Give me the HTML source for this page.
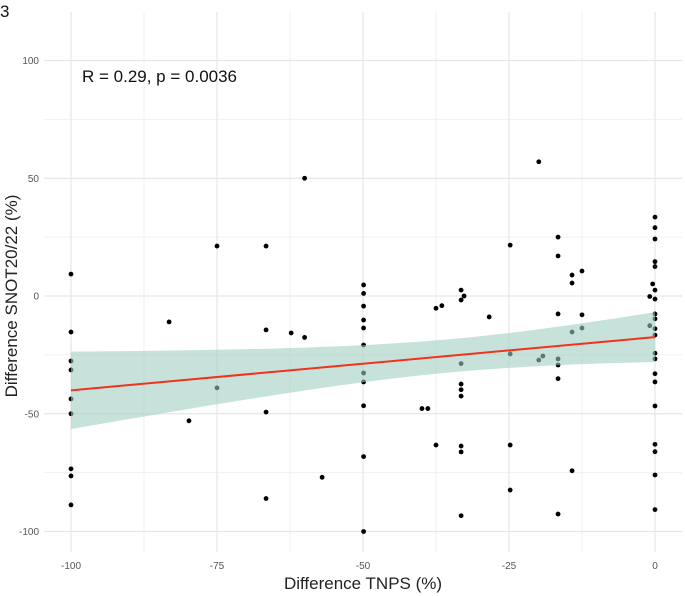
<!DOCTYPE html>
<html><head><meta charset="utf-8">
<style>
html,body{margin:0;padding:0;background:#fff;}
svg{display:block;font-family:"Liberation Sans",sans-serif;}
</style></head>
<body>
<svg id="chart" width="685" height="596" viewBox="0 0 685 596" xmlns="http://www.w3.org/2000/svg">
<text x="0" y="17" font-size="17" fill="#111">3</text>
<g id="grid"></g>
<g id="points"></g>
<g id="fit"></g>
<g id="axes"></g>
<text x="82" y="82" font-size="17" fill="#111">R = 0.29, p = 0.0036</text>
<text x="363" y="589" font-size="17" fill="#222" text-anchor="middle">Difference TNPS (%)</text>
<text transform="translate(17,296) rotate(-90)" font-size="17" fill="#222" text-anchor="middle">Difference SNOT20/22 (%)</text>
</svg>
<script>
const xTicks = [-100, -75, -50, -25, 0];
const yTicks = [100, 50, 0, -50, -100];
const xMinor = [-87.5, -62.5, -37.5, -12.5];
const yMinor = [75, 25, -25, -75];
const xVals = [-100,-100,-100,-100,-100,-100,-100,-100,-100,
 -83.2,-79.8,-75,-75,-66.6,-66.6,-66.6,-66.6,-62.3,-60,-60,-57,
 -49.9,-49.9,-49.9,-49.9,-49.9,-49.9,-49.9,-49.9,-49.9,-49.9,-49.9,
 -39.9,-38.9,-37.5,-37.5,-36.5,
 -33.2,-33.2,-33.2,-33.2,-33.2,-33.2,-33.2,-33.2,-33.2,-32.7,
 -28.4,-24.8,-24.8,-24.8,-24.8,-19.9,-19.9,-19.2,
 -16.6,-16.6,-16.6,-16.6,-16.6,-16.6,-16.6,
 -14.2,-14.2,-14.2,-14.2,-12.5,-12.5,-12.5,
 -0.9,-0.9,-0.4,
 0,0,0,0,0,0,0,0,0,0,0,0,0,0,0,0,0,0,0,0];
const yVals = [9.3,-15.3,-27.6,-31.4,-43.7,-50,-73.4,-76.4,-88.7,
 -11,-53,21.2,-39,21.2,-14.4,-49.3,-86,-15.7,50,-17.6,-77,
 4.7,1.1,-4.3,-10.2,-13.6,-20.8,-32.7,-36.5,-46.6,-68.2,-100,
 -47.8,-47.8,-5.2,-63.3,-4.1,
 2.5,-1.7,-28.7,-37.4,-39.8,-42.5,-63.7,-66.2,-93.3,0,
 -8.9,21.6,-24.6,-63.3,-82.4,57,-27.2,-25.5,
 25,17,-7.6,-26.7,-29.3,-35.1,-92.6,
 8.9,5.5,-15.3,-74.2,10.6,-8,-13.6,
 -0.2,-12.6,5.1,
 33.5,29,24.2,14.6,12.5,2.5,-1.3,-7.6,-9.7,-13.9,-16.6,-24.3,-26.7,-33,-36.5,-46.7,-63,-66.1,-76,-90.7];

const NS='http://www.w3.org/2000/svg';
function X(v){return 71+(v+100)*5.84;}
function Y(v){return 296-v*2.355;}
function mk(tag,attrs,parent){const e=document.createElementNS(NS,tag);for(const k in attrs)e.setAttribute(k,attrs[k]);parent.appendChild(e);return e;}
const grid=document.getElementById('grid'),axes=document.getElementById('axes'),pts=document.getElementById('points'),fit=document.getElementById('fit');
const L=44,R=682,T=12,B=552;
xMinor.forEach(v=>{const l=mk('line',{x1:X(v),x2:X(v),y1:T,y2:B,stroke:'#f0f0f0','stroke-width':1},grid);

});
yMinor.forEach(v=>{const l=mk('line',{x1:L,x2:R,y1:Y(v),y2:Y(v),stroke:'#f0f0f0','stroke-width':1},grid);

});
xTicks.forEach(v=>{const l=mk('line',{x1:X(v),x2:X(v),y1:T,y2:B,stroke:'#e6e6e6','stroke-width':1.2},grid);


const t=mk('text',{x:X(v),y:569,'font-size':10,fill:'#555','text-anchor':'middle'},axes);t.textContent=v;

});
yTicks.forEach(v=>{const l=mk('line',{x1:L,x2:R,y1:Y(v),y2:Y(v),stroke:'#e6e6e6','stroke-width':1.2},grid);


const t=mk('text',{x:39,y:Y(v)+3.5,'font-size':10,fill:'#555','text-anchor':'end'},axes);t.textContent=v;

});
xVals.forEach((v,i)=>{const c=mk('circle',{cx:X(v),cy:Y(yVals[i]),r:2.4,fill:'#000'},pts);

});
// linear regression with 95% CI
const n=xVals.length;
const mx=xVals.reduce((a,b)=>a+b,0)/n,my=yVals.reduce((a,b)=>a+b,0)/n;
let sxx=0,sxy=0;for(let i=0;i<n;i++){sxx+=(xVals[i]-mx)**2;sxy+=(xVals[i]-mx)*(yVals[i]-my);}
const b1=sxy/sxx,b0=my-b1*mx;
let sse=0;for(let i=0;i<n;i++){sse+=(yVals[i]-b0-b1*xVals[i])**2;}
const s=Math.sqrt(sse/(n-2)),tq=1.985;
const xmin=Math.min(...xVals),xmax=Math.max(...xVals);
const up=[],lo=[];
for(let k=0;k<=40;k++){const x=xmin+(xmax-xmin)*k/40;const yh=b0+b1*x;const se=s*Math.sqrt(1/n+(x-mx)**2/sxx);
up.push(X(x)+','+Y(yh+tq*se));lo.unshift(X(x)+','+Y(yh-tq*se));}
const rib=mk('polygon',{points:up.concat(lo).join(' '),fill:'#9fcdbf','fill-opacity':0.58},fit);


const ln=mk('line',{x1:X(xmin),y1:Y(b0+b1*xmin),x2:X(xmax),y2:Y(b0+b1*xmax),stroke:'#f0321e','stroke-width':2},fit);


</script>
</body></html>
